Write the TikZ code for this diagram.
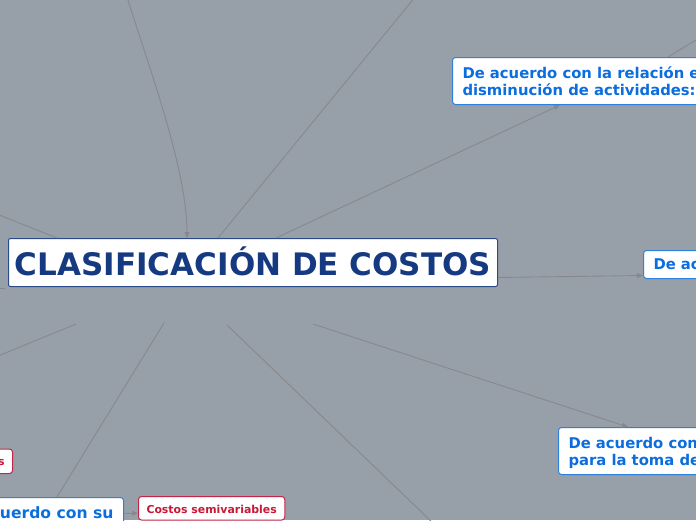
\documentclass[tikz,border=0pt]{standalone}
\usepackage{fontspec}
\setmainfont{DejaVu Sans}
\usetikzlibrary{arrows.meta}
\definecolor{bgcol}{RGB}{151,160,168}
\definecolor{conncol}{RGB}{136,136,140}
\definecolor{mainborder}{RGB}{43,74,138}
\definecolor{maintext}{RGB}{22,58,130}
\definecolor{blueborder}{RGB}{45,128,220}
\definecolor{bluetext}{RGB}{12,110,222}
\definecolor{redborder}{RGB}{196,36,70}
\definecolor{redtext}{RGB}{200,24,54}
\begin{document}
\begin{tikzpicture}[x=1pt,y=-1pt,
  conn/.style={draw=conncol, line width=0.9pt},
  arr/.style={conn, -{Triangle[length=6pt,width=5pt]}},
  mainbox/.style={draw=mainborder, fill=white, rounded corners=2pt, line width=1pt, text=maintext,
    font=\fontsize{31}{31}\selectfont\bfseries, inner sep=0pt},
  bluebox/.style={draw=blueborder, fill=white, rounded corners=3pt, line width=1pt, text=bluetext,
    font=\fontsize{14.8}{17}\selectfont\bfseries, inner ysep=0pt, inner xsep=10pt},
  redbox/.style={draw=redborder, fill=white, rounded corners=3pt, line width=1pt, text=redtext,
    font=\fontsize{10.9}{13}\selectfont\bfseries, inner ysep=0pt, inner xsep=8pt}]
\useasboundingbox (0,0) rectangle (696,520);
\fill[bgcol] (0,0) rectangle (696,520);
\clip (0,0) rectangle (696,520);

% nodes
\node[mainbox, minimum width=489pt, text height=36.5pt, text depth=11.5pt, anchor=north west] (main) at (8,238) {CLASIFICACIÓN DE COSTOS};
\node[bluebox, text height=21.3pt, text depth=25.7pt, anchor=north west] (n1) at (452,57)
  {\vtop{\hbox{De acuerdo con la relación entre}\hbox{disminución de actividades:}}};
\node[bluebox, text height=19.3pt, text depth=8.7pt, anchor=north west] (nB) at (643,250) {De acuerdo con};
\node[bluebox, text height=21.3pt, text depth=25.7pt, anchor=north west] (n3) at (558,427)
  {\vtop{\hbox{De acuerdo con su importancia}\hbox{para la toma de decisiones:}}};
\node[bluebox, font=\fontsize{15.6}{17}\selectfont\bfseries, text height=20.5pt, text depth=27.5pt, anchor=north east] (n4) at (124,497) {De acuerdo con su\hspace{4pt}};
\node[redbox, text height=17.3pt, text depth=6.2pt, anchor=north west] (r1) at (138,496) {Costos semivariables};
\node[redbox, text height=16pt, text depth=8.5pt, anchor=north east] (r0) at (13,448.5) {Costos variables};

% free ends
\coordinate (t1) at (126,-6);
\coordinate (t2) at (429,-20);
\coordinate (t3) at (-20,207.3);
\coordinate (t4) at (720,25.5);
\coordinate (b1) at (461,550);
\coordinate (b2) at (-20,363.4);
\coordinate (b3) at (-20,288);
\coordinate (ra) at ([yshift=-5pt]r1.west);

% connectors
\draw[arr] (t1) .. controls (150,70) and (187,170) .. ([xshift=179pt]main.north west);
\draw[conn] ([xshift=210pt]main.north west) -- (t2);
\draw[conn] ([xshift=49pt]main.north west) -- (t3);
\draw[arr] ([xshift=268pt]main.north west) -- ([xshift=108pt]n1.south west);
\draw[conn] ([xshift=216pt]n1.north west) -- (t4);
\draw[arr] ([yshift=-15pt]main.east) -- ([yshift=-11pt]nB.west);
\draw[arr] ([shift={(305pt,-37pt)}]main.south west) -- ([xshift=70pt]n3.north west);
\draw[conn] ([shift={(156pt,-36pt)}]main.south west) -- ([xshift=-67pt]n4.north east);
\draw[conn] ([shift={(219pt,-38pt)}]main.south west) -- (b1);
\draw[conn] ([shift={(68pt,-37pt)}]main.south west) -- (b2);
\draw[conn] ([shift={(-3pt,-1pt)}]main.south west) -- (b3);
\draw[arr] (ra -| n4.east) -- (ra);
\end{tikzpicture}
\end{document}
